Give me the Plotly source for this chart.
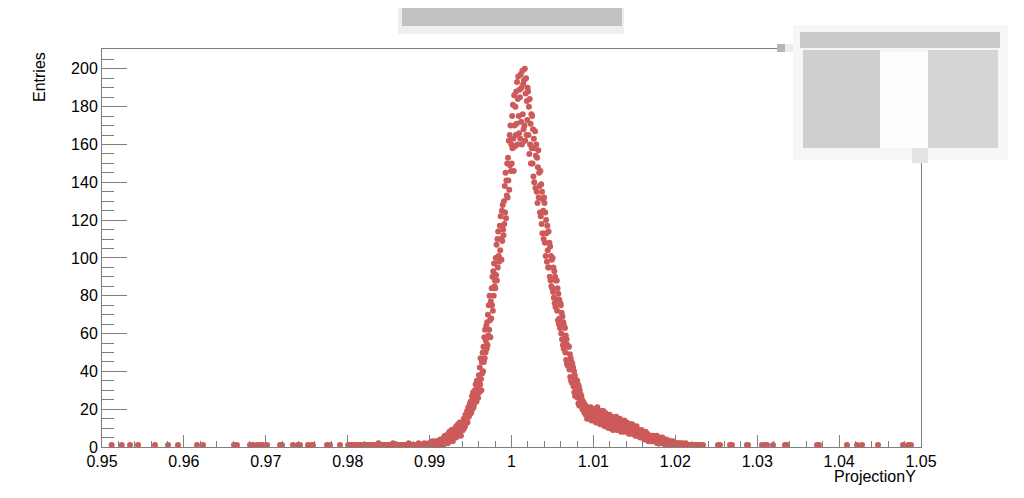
import plotly.graph_objects as go

# low tail: bins 0.9800 .. 0.9900, width 0.0001
low_start = 0.98
low_width = 0.0001
low_counts = [
    1, 0, 1, 1, 0, 1, 0, 1, 1, 0,
    0, 1, 0, 1, 1, 0, 0, 1, 0, 1,
    1, 0, 1, 0, 1, 1, 0, 1, 0, 0,
    1, 1, 0, 1, 0, 1, 0, 2, 0, 1,
    0, 1, 1, 0, 1, 0, 1, 1, 0, 1,
    1, 0, 1, 1, 0, 2, 1, 0, 1, 0,
    0, 1, 0, 1, 1, 0, 1, 0, 1, 1,
    1, 0, 1, 0, 2, 1, 0, 1, 1, 0,
    1, 1, 0, 1, 1, 0, 2, 1, 0, 1,
    0, 1, 1, 2, 1, 0, 1, 1, 2, 1,
]

# main peak: bins 0.99000 .. 1.02300, width 0.00005 (one row = 0.0005)
peak_start = 0.99
peak_width = 0.00005
peak_counts = [
    1, 0, 2, 1, 0, 1, 3, 1, 0, 2,
    2, 1, 0, 1, 3, 2, 0, 1, 2, 1,
    2, 3, 1, 0, 2, 4, 1, 2, 3, 1,
    3, 1, 4, 2, 5, 2, 3, 6, 2, 4,
    5, 3, 6, 4, 2, 7, 5, 4, 8, 5,
    7, 4, 6, 9, 5, 8, 3, 7, 6, 9,
    9, 6, 10, 7, 5, 11, 8, 6, 9, 12,
    7, 11, 9, 13, 8, 10, 6, 12, 10, 9,
    13, 9, 12, 15, 10, 14, 11, 17, 13, 16,
    15, 19, 13, 18, 21, 16, 20, 17, 23, 19,
    24, 18, 22, 27, 20, 25, 29, 21, 26, 23,
    30, 25, 33, 27, 24, 35, 29, 32, 26, 34,
    38, 29, 42, 33, 47, 36, 30, 45, 39, 50,
    40, 53, 45, 58, 47, 62, 50, 56, 64, 52,
    66, 54, 70, 59, 75, 62, 80, 67, 58, 77,
    68, 84, 75, 90, 72, 93, 80, 97, 85, 88,
    84, 100, 91, 107, 88, 110, 95, 114, 101, 98,
    100, 117, 104, 122, 110, 99, 125, 109, 128, 115,
    112, 130, 118, 138, 124, 145, 121, 141, 133, 150,
    132, 153, 141, 162, 136, 165, 149, 170, 146, 160,
    150, 175, 158, 181, 163, 146, 186, 170, 159, 180,
    165, 188, 171, 193, 160, 184, 196, 175, 166, 189,
    185, 163, 197, 172, 190, 160, 199, 176, 192, 168,
    194, 170, 200, 162, 187, 195, 165, 183, 173, 190,
    188, 165, 180, 155, 184, 160, 171, 150, 176, 158,
    175, 150, 168, 143, 163, 140, 158, 167, 137, 154,
    160, 135, 153, 129, 148, 157, 132, 145, 138, 124,
    146, 122, 139, 118, 135, 113, 131, 125, 110, 132,
    129, 108, 124, 101, 120, 113, 98, 117, 104, 95,
    114, 95, 108, 90, 106, 88, 101, 85, 99, 84,
    100, 82, 95, 79, 93, 76, 90, 74, 88, 78,
    88, 72, 84, 67, 81, 65, 78, 68, 63, 76,
    75, 60, 71, 57, 69, 54, 66, 52, 64, 55,
    63, 50, 59, 46, 57, 44, 54, 43, 53, 45,
    53, 41, 49, 37, 47, 35, 45, 34, 44, 36,
    42, 32, 40, 29, 38, 27, 36, 27, 35, 30,
    35, 26, 33, 23, 32, 22, 30, 22, 28, 25,
    27, 23, 25, 20, 24, 21, 19, 23, 18, 22,
    22, 17, 20, 19, 15, 21, 18, 16, 20, 17,
    19, 15, 18, 21, 16, 14, 19, 17, 20, 15,
    18, 14, 17, 20, 15, 19, 13, 17, 16, 21,
    16, 19, 13, 17, 15, 18, 12, 16, 19, 14,
    15, 12, 17, 14, 19, 13, 16, 11, 15, 18,
    14, 17, 11, 15, 13, 16, 10, 14, 12, 17,
    13, 10, 15, 12, 16, 11, 14, 9, 13, 15,
    12, 15, 10, 13, 11, 16, 12, 9, 14, 11,
    11, 14, 9, 12, 15, 10, 12, 8, 13, 11,
    12, 9, 13, 10, 8, 14, 11, 10, 13, 9,
    10, 13, 8, 11, 9, 12, 7, 11, 10, 12,
    9, 11, 7, 10, 12, 8, 10, 7, 9, 11,
    8, 10, 6, 9, 7, 11, 8, 6, 9, 7,
    7, 9, 6, 8, 5, 8, 7, 9, 6, 7,
    6, 8, 5, 7, 4, 7, 6, 8, 5, 6,
    5, 7, 4, 6, 3, 6, 5, 4, 6, 5,
    4, 6, 3, 5, 4, 6, 3, 5, 4, 5,
    4, 5, 3, 4, 6, 2, 4, 5, 3, 4,
    3, 5, 2, 4, 3, 4, 2, 3, 5, 3,
    3, 2, 4, 2, 3, 1, 3, 2, 4, 2,
    2, 3, 1, 2, 3, 2, 1, 3, 2, 1,
    2, 1, 2, 3, 1, 2, 0, 2, 1, 2,
    1, 2, 1, 0, 2, 1, 1, 2, 0, 1,
    1, 0, 2, 1, 1, 0, 1, 2, 1, 0,
    1, 1, 0, 1, 0, 2, 1, 0, 1, 0,
    0, 1, 0, 1, 1, 0, 0, 1, 0, 1,
    1, 0, 0, 1, 0, 0, 1, 0, 1, 0,
    0, 0, 1, 0, 0, 1, 0, 0, 0, 1,
]

# isolated single entries in the far tails
tail_x = [0.95118, 0.95241, 0.95342, 0.95440, 0.95647, 0.95806, 0.95928,
          0.96160, 0.96233, 0.96612, 0.96648, 0.96807, 0.96844, 0.96893,
          0.96929, 0.96966, 0.97015, 0.97173, 0.97198, 0.97332, 0.97393,
          0.97418, 0.97515, 0.97564, 0.97576, 0.97747, 0.97784, 0.97906,
          1.02338, 1.02521, 1.02546, 1.02668, 1.02692, 1.02875, 1.02888,
          1.03059, 1.03095, 1.03120, 1.03193, 1.03339, 1.03364, 1.03730,
          1.03755, 1.04096, 1.04219, 1.04280, 1.04475, 1.04780, 1.04841,
          1.04878]
tail_counts = [1] * len(tail_x)

x_ticks = [0.95, 0.96, 0.97, 0.98, 0.99, 1.0, 1.01, 1.02, 1.03, 1.04, 1.05]
x_labels = ['0.95', '0.96', '0.97', '0.98', '0.99', '1', '1.01', '1.02', '1.03', '1.04', '1.05']
y_ticks = [0, 20, 40, 60, 80, 100, 120, 140, 160, 180, 200]

xs, ys = [], []
for start, width, cnts in [(low_start, low_width, low_counts),
                           (peak_start, peak_width, peak_counts)]:
    for i, c in enumerate(cnts):
        if c > 0:  # empty bins are not drawn
            xs.append(start + (i + 0.5) * width)
            ys.append(c)
xs += tail_x
ys += tail_counts

fig = go.Figure()
fig.add_trace(go.Scatter(
    x=xs, y=ys, mode='markers',
    marker=dict(size=6, color='#cd5a5a', line=dict(width=0)),
    cliponaxis=False, showlegend=False
))

axis_col = '#808080'
fig.update_xaxes(
    range=[0.95, 1.05], tickmode='array', tickvals=x_ticks, ticktext=x_labels,
    ticks='inside', ticklen=12, tickcolor=axis_col, tickwidth=1,
    minor=dict(dtick=0.002, tick0=0.95, ticks='inside', ticklen=6, tickcolor=axis_col),
    showline=True, linecolor=axis_col, linewidth=1, mirror=True,
    showgrid=False, zeroline=False, tickfont=dict(size=16, color='black')
)
fig.update_yaxes(
    range=[0, 210.5], tickmode='array', tickvals=y_ticks,
    ticks='inside', ticklen=25, tickcolor=axis_col, tickwidth=1,
    minor=dict(dtick=5, tick0=0, ticks='inside', ticklen=12, tickcolor=axis_col),
    showline=True, linecolor=axis_col, linewidth=1, mirror=True,
    showgrid=False, zeroline=False, tickfont=dict(size=16, color='black')
)


# page pixel -> paper helpers (plot area sits at 102..921 x 49..447 on the page)
def px(x):
    return (x - 102) / 819


def py(y):
    return (447 - y) / 398


def block(x0, y0, x1, y1, color):
    return dict(type='rect', xref='paper', yref='paper',
                x0=px(x0), x1=px(x1), y0=py(y0), y1=py(y1),
                fillcolor=color, line=dict(width=0), layer='above')


# obscured title and stats box
shapes = [
    block(398, 0, 624, 34, '#efefef'),
    block(402, 7, 622, 26, '#c2c2c2'),
    block(793, 25, 1008, 160, '#f6f6f6'),
    block(777, 44, 793, 52, '#ececec'),
    block(777, 44, 785, 52, '#b5b5b5'),
    block(800, 32, 1000, 48, '#cbcbcb'),
    block(803, 50, 880, 148, '#cfcfcf'),
    block(880, 52, 928, 148, '#fefefe'),
    block(928, 50, 998, 148, '#d4d4d4'),
    block(912, 148, 928, 163, '#e4e4e4'),
]

# page body has an 8px margin, so the figure is shrunk and shifted to compensate
fig.update_layout(
    width=1008, height=482,
    margin=dict(l=94, r=95, t=41, b=43),
    paper_bgcolor='white', plot_bgcolor='white',
    font=dict(family='Liberation Sans, Arial, sans-serif', size=16, color='black'),
    shapes=shapes,
    annotations=[
        dict(text='Entries', xref='paper', yref='paper', x=px(40), y=py(50),
             xanchor='center', yanchor='top', textangle=-90, showarrow=False,
             font=dict(size=16)),
        dict(text='ProjectionY', xref='paper', yref='paper', x=px(918), y=py(476),
             xanchor='right', yanchor='middle', showarrow=False, font=dict(size=16)),
    ]
)

fig.write_html('out.html')
